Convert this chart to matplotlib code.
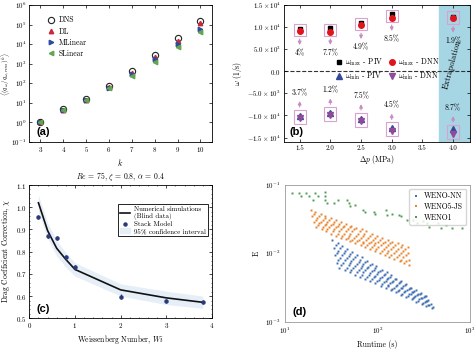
import numpy as np
import matplotlib.pyplot as plt
from matplotlib.patches import Rectangle, Patch
from matplotlib.lines import Line2D

plt.rcParams['font.family'] = ['cmr10', 'DejaVu Serif']
plt.rcParams['mathtext.fontset'] = 'cm'
plt.rcParams['axes.formatter.use_mathtext'] = True
plt.rcParams['axes.linewidth'] = 0.6

# ---------------- (a) moments ----------------
k = [3, 4, 5, 6, 7, 8, 9, 10]
dns = [1.0, 4.6, 15, 72, 420, 2750, 19500, 150000]
dl = [1.0, 4.5, 14.5, 66, 345, 2100, 15000, 115000]
mlinear = [1.0, 4.5, 14, 60, 300, 1800, 9600, 59000]
slinear = [1.0, 4.4, 13.5, 55, 240, 1260, 6800, 40000]

# ---------------- (b) vorticity ----------------
dp = [1.5, 2.0, 2.5, 3.0, 4.0]
wmax_piv = [9500, 9700, 10900, 13000, 12200]
wmax_dnn = [9100, 9000, 10400, 12000, 12100]
wmin_piv = [-10100, -9500, -10700, -12900, -13100]
wmin_dnn = [-10500, -9900, -11300, -13400, -14300]
err_max = ['4%', '7.7%', '4.9%', '8.5%', '1.9%']
err_min = ['3.7%', '1.2%', '7.5%', '4.5%', '8.7%']

# ---------------- (c) drag correction ----------------
wi = [0.2, 0.4, 0.6, 0.8, 1.0, 2.0, 3.0, 3.8]
chi_sim = [1.02, 0.895, 0.815, 0.765, 0.72, 0.628, 0.592, 0.572]
chi_stack = [0.957, 0.870, 0.861, 0.774, 0.729, 0.598, 0.578, 0.573]
ci_upper = [1.055, 0.93, 0.85, 0.795, 0.75, 0.655, 0.622, 0.60]
ci_lower = [0.98, 0.86, 0.78, 0.73, 0.69, 0.60, 0.562, 0.545]

# ---------------- (d) error vs runtime, log10 values, one list per sweep row ----------------
nn_log_t = [
    [1.51, 1.57, 1.62, 1.67, 1.73, 1.78, 1.83, 1.89, 1.94, 1.99, 2.05, 2.10, 2.15, 2.20, 2.26, 2.31, 2.36, 2.42, 2.47, 2.52],
    [1.55, 1.60, 1.65, 1.71, 1.76, 1.81, 1.87, 1.92, 1.98, 2.03, 2.08, 2.14, 2.19, 2.24, 2.30, 2.35, 2.40, 2.46, 2.51],
    [1.53, 1.58, 1.64, 1.69, 1.74, 1.80, 1.85, 1.90, 1.96, 2.01, 2.07, 2.12, 2.17, 2.23, 2.28, 2.34, 2.39, 2.44, 2.50, 2.55],
    [1.56, 1.62, 1.67, 1.72, 1.78, 1.83, 1.89, 1.94, 2.00, 2.05, 2.10, 2.16, 2.21, 2.27, 2.32, 2.37, 2.43, 2.48, 2.54],
    [1.54, 1.60, 1.65, 1.71, 1.76, 1.82, 1.87, 1.92, 1.98, 2.03, 2.09, 2.14, 2.20, 2.25, 2.30, 2.36, 2.41, 2.47, 2.52, 2.58],
    [1.58, 1.63, 1.69, 1.74, 1.80, 1.85, 1.91, 1.96, 2.02, 2.07, 2.12, 2.18, 2.23, 2.29, 2.34, 2.40, 2.45, 2.51, 2.56],
    [1.56, 1.61, 1.67, 1.72, 1.78, 1.83, 1.89, 1.94, 2.00, 2.05, 2.11, 2.16, 2.22, 2.27, 2.33, 2.38, 2.44, 2.49, 2.55, 2.60],
    [1.59, 1.65, 1.70, 1.76, 1.81, 1.87, 1.92, 1.98, 2.04, 2.09, 2.15, 2.20, 2.26, 2.31, 2.37, 2.42, 2.48, 2.53, 2.59]]
nn_log_e = [
    [-1.81, -1.85, -1.89, -1.93, -1.98, -2.02, -2.06, -2.11, -2.15, -2.19, -2.24, -2.28, -2.32, -2.37, -2.41, -2.45, -2.50, -2.54, -2.58, -2.62],
    [-1.88, -1.92, -1.97, -2.01, -2.05, -2.09, -2.13, -2.17, -2.22, -2.26, -2.30, -2.34, -2.38, -2.42, -2.47, -2.51, -2.55, -2.59, -2.63],
    [-1.92, -1.96, -2.00, -2.04, -2.08, -2.12, -2.16, -2.20, -2.24, -2.28, -2.32, -2.36, -2.40, -2.44, -2.48, -2.52, -2.56, -2.60, -2.64, -2.68],
    [-1.99, -2.03, -2.07, -2.11, -2.15, -2.19, -2.22, -2.26, -2.30, -2.34, -2.38, -2.42, -2.46, -2.50, -2.53, -2.57, -2.61, -2.65, -2.69],
    [-2.03, -2.07, -2.10, -2.14, -2.18, -2.21, -2.25, -2.29, -2.33, -2.36, -2.40, -2.44, -2.48, -2.51, -2.55, -2.59, -2.62, -2.66, -2.70, -2.74],
    [-2.10, -2.14, -2.17, -2.21, -2.25, -2.28, -2.32, -2.35, -2.39, -2.42, -2.46, -2.50, -2.53, -2.57, -2.60, -2.64, -2.67, -2.71, -2.75],
    [-2.14, -2.17, -2.21, -2.24, -2.28, -2.31, -2.35, -2.38, -2.41, -2.45, -2.48, -2.52, -2.55, -2.59, -2.62, -2.66, -2.69, -2.72, -2.76, -2.79],
    [-2.21, -2.24, -2.28, -2.31, -2.34, -2.38, -2.41, -2.44, -2.48, -2.51, -2.54, -2.57, -2.61, -2.64, -2.67, -2.71, -2.74, -2.77, -2.80]]
js_log_t = [
    [1.28, 1.33, 1.39, 1.44, 1.50, 1.55, 1.61, 1.66, 1.72, 1.77, 1.83, 1.88, 1.94, 2.00, 2.05, 2.11, 2.16, 2.22, 2.27, 2.33],
    [1.32, 1.37, 1.43, 1.48, 1.53, 1.59, 1.64, 1.70, 1.75, 1.81, 1.86, 1.92, 1.97, 2.03, 2.08, 2.14, 2.19, 2.25, 2.30],
    [1.30, 1.35, 1.41, 1.46, 1.52, 1.57, 1.63, 1.68, 1.73, 1.79, 1.84, 1.90, 1.95, 2.01, 2.06, 2.11, 2.17, 2.22, 2.28, 2.33],
    [1.34, 1.39, 1.45, 1.50, 1.55, 1.61, 1.66, 1.71, 1.77, 1.82, 1.88, 1.93, 1.98, 2.04, 2.09, 2.15, 2.20, 2.25, 2.31],
    [1.32, 1.37, 1.43, 1.48, 1.53, 1.59, 1.64, 1.69, 1.75, 1.80, 1.85, 1.91, 1.96, 2.01, 2.07, 2.12, 2.18, 2.23, 2.28, 2.34],
    [1.36, 1.41, 1.46, 1.52, 1.57, 1.62, 1.68, 1.73, 1.78, 1.84, 1.89, 1.94, 1.99, 2.05, 2.10, 2.15, 2.21, 2.26, 2.31],
    [1.34, 1.40, 1.45, 1.50, 1.55, 1.61, 1.66, 1.71, 1.76, 1.82, 1.87, 1.92, 1.97, 2.03, 2.08, 2.13, 2.18, 2.24, 2.29, 2.34]]
js_log_e = [
    [-1.37, -1.40, -1.42, -1.45, -1.48, -1.51, -1.54, -1.57, -1.60, -1.63, -1.65, -1.68, -1.71, -1.74, -1.77, -1.80, -1.83, -1.85, -1.88, -1.91],
    [-1.42, -1.45, -1.48, -1.51, -1.54, -1.57, -1.60, -1.62, -1.65, -1.68, -1.71, -1.74, -1.77, -1.80, -1.83, -1.85, -1.88, -1.91, -1.94],
    [-1.45, -1.48, -1.51, -1.54, -1.57, -1.60, -1.62, -1.65, -1.68, -1.71, -1.74, -1.77, -1.80, -1.83, -1.85, -1.88, -1.91, -1.94, -1.97, -2.00],
    [-1.51, -1.54, -1.57, -1.59, -1.62, -1.65, -1.68, -1.71, -1.74, -1.77, -1.80, -1.83, -1.85, -1.88, -1.91, -1.94, -1.97, -2.00, -2.03],
    [-1.54, -1.56, -1.59, -1.62, -1.65, -1.68, -1.71, -1.74, -1.77, -1.80, -1.83, -1.85, -1.88, -1.91, -1.94, -1.97, -2.00, -2.03, -2.06, -2.09],
    [-1.59, -1.62, -1.65, -1.68, -1.71, -1.74, -1.77, -1.80, -1.82, -1.85, -1.88, -1.91, -1.94, -1.97, -2.00, -2.03, -2.06, -2.09, -2.11],
    [-1.62, -1.65, -1.68, -1.71, -1.74, -1.77, -1.79, -1.82, -1.85, -1.88, -1.91, -1.94, -1.97, -2.00, -2.03, -2.06, -2.08, -2.11, -2.14, -2.17]]
w1_log_t = [1.08, 1.15, 1.23, 1.33, 1.44, 1.18, 1.26, 1.36, 1.44, 1.31, 1.43, 1.46,
            1.53, 1.57, 1.67, 1.69, 1.71, 1.76, 1.85, 1.87, 1.96, 1.98, 2.09, 2.10,
            2.16, 2.23, 2.25, 2.32, 2.38, 2.43, 2.49, 2.54, 2.56, 2.65, 2.69, 2.74,
            2.81, 2.91]
w1_log_e = [-1.11, -1.11, -1.11, -1.11, -1.10, -1.16, -1.16, -1.16, -1.16, -1.22, -1.22, -1.27,
            -1.27, -1.22, -1.22, -1.27, -1.31, -1.29, -1.36, -1.39, -1.39, -1.42, -1.37, -1.44,
            -1.42, -1.44, -1.46, -1.51, -1.51, -1.56, -1.52, -1.56, -1.61, -1.56, -1.63, -1.59,
            -1.63, -1.63]

fig = plt.figure(figsize=(4.74, 3.52), dpi=100)
ax_a = fig.add_axes([0.0612, 0.5966, 0.3856, 0.3892])
ax_b = fig.add_axes([0.5985, 0.5966, 0.3924, 0.3892])
ax_c = fig.add_axes([0.0618, 0.0957, 0.3855, 0.3787])
ax_d = fig.add_axes([0.6006, 0.0861, 0.3910, 0.3883])

tick_kw = dict(direction='in', length=2, width=0.5, labelsize=5, pad=2,
               top=True, right=True)
tag_kw = dict(fontsize=8, fontweight='bold', family='Liberation Sans')

# (a)
ax_a.plot(k, dns, 'o', mfc='none', mec='#222222', ms=4.5, mew=0.8, label='DNS')
ax_a.plot(k, dl, '^', color='#c8283c', ms=3.2, label='DL')
ax_a.plot(k, mlinear, '>', color='#2f4c9c', ms=3.2, label='MLinear')
ax_a.plot(k, slinear, '<', color='#63a64f', ms=3.2, label='SLinear')
ax_a.set_yscale('log')
ax_a.set_ylim(0.1, 1e6)
ax_a.set_xlim(2.5, 10.5)
ax_a.set_xticks(k)
ax_a.minorticks_off()
ax_a.tick_params(**tick_kw)
ax_a.set_xlabel('$k$', fontsize=6, labelpad=2)
ax_a.set_ylabel(r'$\langle (q_{\omega}/q_{\omega,rms})^k \rangle$', fontsize=5)
ax_a.yaxis.set_label_coords(-0.095, 0.5)
ax_a.legend(loc='upper left', bbox_to_anchor=(0.06, 0.97), frameon=False, fontsize=5.5,
            handlelength=1, handletextpad=0.6, labelspacing=0.35)
ax_a.text(0.04, 0.05, '(a)', transform=ax_a.transAxes, **tag_kw)

# (b)
pink = '#d9a3cf'
ax_b.axvspan(3.77, 4.3, color='#a6d5e4', zorder=0)
ax_b.axhline(0, color='#333333', ls='--', lw=0.8, zorder=1)
for i, x in enumerate(dp):
    cmax = (wmax_piv[i] + wmax_dnn[i]) / 2
    cmin = (wmin_piv[i] + wmin_dnn[i]) / 2
    ax_b.add_patch(Rectangle((x - 0.1, cmax - 1400), 0.2, 2800, fill=False, ec=pink, lw=0.8))
    ax_b.add_patch(Rectangle((x - 0.1, cmin - 1600), 0.2, 3200, fill=False, ec=pink, lw=0.8))
    ax_b.annotate('', xy=(x, cmax - 4000), xytext=(x, cmax - 1400),
                  arrowprops=dict(arrowstyle='-|>', color='#c88cc2', lw=0.8, mutation_scale=5))
    ax_b.annotate('', xy=(x, cmin + 4200), xytext=(x, cmin + 1600),
                  arrowprops=dict(arrowstyle='-|>', color='#c88cc2', lw=0.8, mutation_scale=5))
    ax_b.text(x, cmax - 4300, err_max[i], ha='center', va='top', fontsize=5.5)
    ax_b.text(x, cmin + 4500, err_min[i], ha='center', va='bottom', fontsize=5.5)
h1, = ax_b.plot(dp, wmax_piv, 's', color='black', ms=3.5, label=r'$\omega_{\rm max}$ - PIV')
h2, = ax_b.plot(dp, wmax_dnn, 'o', color='#e0141e', ms=4, label=r'$\omega_{\rm max}$ - DNN')
h3, = ax_b.plot(dp, wmin_piv, '^', color='#35489a', ms=4, label=r'$\omega_{\rm min}$ - PIV')
h4, = ax_b.plot(dp, wmin_dnn, 'v', color='#8f4a9c', ms=4, label=r'$\omega_{\rm min}$ - DNN')
ax_b.set_xlim(1.24, 4.27)
ax_b.set_ylim(-16000, 15000)
ax_b.set_xticks([1.5, 2.0, 2.5, 3.0, 3.5, 4.0])
ax_b.set_xticklabels(['1.5', '2.0', '2.5', '3.0', '3.5', '4.0'])
ax_b.set_yticks([15000, 10000, 5000, 0, -5000, -10000, -15000])
ax_b.set_yticklabels([r'$1.5\times10^{4}$', r'$1.0\times10^{4}$', r'$5.0\times10^{3}$', r'$0.0$',
                      r'$-5.0\times10^{3}$', r'$-1.0\times10^{4}$', r'$-1.5\times10^{4}$'])
ax_b.tick_params(**tick_kw)
ax_b.set_xlabel(r'$\Delta p$ (MPa)', fontsize=5.5, labelpad=2)
ax_b.set_ylabel(r'$\omega$ (1/s)', fontsize=5.5, labelpad=2)
ax_b.legend(handles=[h1, h3, h2, h4], loc='center', bbox_to_anchor=(0.56, 0.53), ncol=2,
            frameon=False, fontsize=5.5, handlelength=1, handletextpad=0.3,
            columnspacing=0.6, labelspacing=0.3)
ax_b.text(3.98, 1500, 'Extrapolation', rotation=75, ha='center', va='center', fontsize=6)
ax_b.text(0.03, 0.05, '(b)', transform=ax_b.transAxes, **tag_kw)

# (c)
ax_c.fill_between(wi, ci_lower, ci_upper, color='#e6eef8', lw=0)
ax_c.plot(wi, chi_sim, color='#111111', lw=1.2)
ax_c.errorbar(wi, chi_stack, yerr=0.01, fmt='o', ms=2.2, color='#2b3a7a',
              elinewidth=0.8, capsize=0)
ax_c.set_xlim(0, 4)
ax_c.set_ylim(0.5, 1.1)
ax_c.set_xticks([0, 1, 2, 3, 4])
ax_c.set_yticks([0.5, 0.6, 0.7, 0.8, 0.9, 1.0, 1.1])
ax_c.minorticks_on()
ax_c.tick_params(**tick_kw)
ax_c.tick_params(which='minor', direction='in', length=1, width=0.4, top=True, right=True)
ax_c.set_title(r'$Re$ = 75, $\zeta$ = 0.8, $\alpha$ = 0.4', fontsize=5.5, pad=4)
ax_c.set_xlabel(r'Weissenberg Number, $Wi$', fontsize=5.5, labelpad=2)
ax_c.set_ylabel(r'Drag Coefficient Correction, $\chi$', fontsize=5.5, labelpad=3)
leg_handles = [Line2D([], [], color='#111111', lw=1.2),
               Line2D([], [], marker='o', ls='none', color='#2b3a7a', ms=2.2),
               Patch(color='#e6eef8')]
leg = ax_c.legend(leg_handles, ['Numerical simulations\n(Blind data)', 'Stack Model',
                                '95% confidence interval'],
                  loc='upper right', bbox_to_anchor=(0.995, 0.885), fontsize=5,
                  fancybox=False, edgecolor='black', framealpha=1, handlelength=1.5,
                  handletextpad=0.5, labelspacing=0.2, borderpad=0.3)
leg.get_frame().set_linewidth(0.6)
ax_c.text(0.04, 0.05, '(c)', transform=ax_c.transAxes, **tag_kw)

# (d)
series_d = [(nn_log_t, nn_log_e, '#3f6fb2', 'WENO-NN'),
            (js_log_t, js_log_e, '#e6852e', 'WENO5-JS'),
            ([w1_log_t], [w1_log_e], '#4e9a52', 'WENO1')]
for lt, le, col, lab in series_d:
    t = 10 ** np.concatenate([np.array(r) for r in lt])
    e = 10 ** np.concatenate([np.array(r) for r in le])
    ax_d.plot(t, e, 's', color=col, ms=1.4, mew=0, label=lab)
ax_d.set_xscale('log')
ax_d.set_yscale('log')
ax_d.set_xlim(10, 1000)
ax_d.set_ylim(1e-3, 1e-1)
ax_d.minorticks_off()
ax_d.tick_params(length=0, labelsize=5, pad=3)
for s in ax_d.spines.values():
    s.set_color('#999999')
ax_d.set_xlabel('Runtime (s)', fontsize=5.5, labelpad=3)
ax_d.set_ylabel('E', fontsize=5.5, rotation=90, labelpad=3)
ax_d.legend(loc='upper right', fontsize=5.5, markerscale=1.5, handlelength=1,
            handletextpad=0.6, labelspacing=0.3, edgecolor='#cccccc')
ax_d.text(0.04, 0.05, '(d)', transform=ax_d.transAxes, **tag_kw)

fig.savefig('out.png', dpi=100)
